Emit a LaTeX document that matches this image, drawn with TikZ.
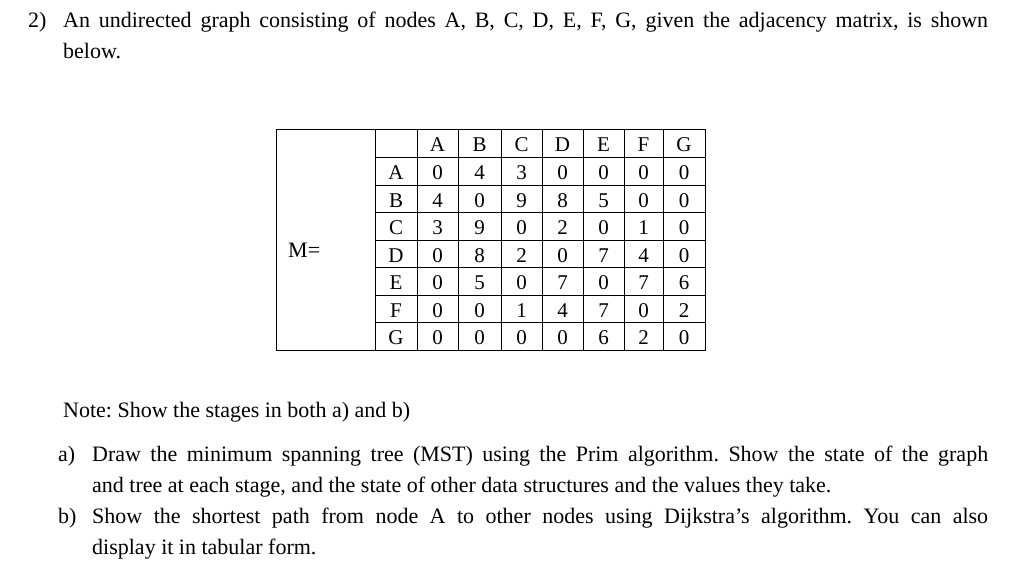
\documentclass[tikz,border=0pt]{standalone}
\usepackage{fontspec}
\setmainfont{Liberation Serif}
\frenchspacing
\begin{document}
\begin{tikzpicture}[x=1pt,y=-1pt,
  txt/.style={anchor=base west,inner sep=0pt,font=\fontsize{22}{26}\selectfont},
  cell/.style={anchor=base,inner sep=0pt,font=\fontsize{21}{24}\selectfont},
  grid/.style={line width=1pt}]
\useasboundingbox[fill=white] (0,0) rectangle (1024,572);
\node[txt] (n2) at (28,28) {2)};
\node[txt] (l1) at (63,28) {\makebox[925pt][s]{An undirected graph consisting of nodes A, B, C, D, E, F, G, given the adjacency matrix, is shown}};
\node[txt] (l2) at (63,59) {below.};
% table
\draw[grid] (276,130) rectangle (705,350);
\draw[grid] (375,130) -- (375,350);
\foreach \x in {417,458,501,542,583,624,663} \draw[grid] (\x,130) -- (\x,350);
\foreach \i in {1,...,7} \draw[grid] (375,{130+27.5*\i}) -- (705,{130+27.5*\i});
\node[txt] (M) at (288,257) {M=};
\def\cx{{396,437.5,479.5,521.5,562.5,603.5,643.5,684}}
\foreach \t [count=\i from 0] in {A,B,C,D,E,F,G}{
  \pgfmathsetmacro\xx{\cx[\i+1]}
  \pgfmathsetmacro\yy{152+27.5*(\i+1)}
  \node[cell] (h\i) at (\xx,152) {\t};
  \node[cell] (r\i) at (396,\yy) {\t};
}
\foreach \row [count=\r] in {{0,4,3,0,0,0,0},{4,0,9,8,5,0,0},{3,9,0,2,0,1,0},{0,8,2,0,7,4,0},{0,5,0,7,0,7,6},{0,0,1,4,7,0,2},{0,0,0,0,6,2,0}}{
  \foreach \v [count=\c] in \row {
    \pgfmathsetmacro\xx{\cx[\c]}
    \pgfmathsetmacro\yy{152+27.5*\r}
    \node[cell] (m\r\c) at (\xx,\yy) {\v};
  }
}
\node[txt] (note) at (63,417) {Note: Show the stages in both a) and b)};
\node[txt] (a) at (58,461) {a)};
\node[txt] (a1) at (92,461) {\makebox[896pt][s]{Draw the minimum spanning tree (MST) using the Prim algorithm. Show the state of the graph}};
\node[txt] (a2) at (92,492) {and tree at each stage, and the state of other data structures and the values they take.};
\node[txt] (b) at (58,523) {b)};
\node[txt] (b1) at (92,523) {\makebox[896pt][s]{Show the shortest path from node A to other nodes using Dijkstra's algorithm. You can also}};
\node[txt] (b2) at (92,554) {display it in tabular form.};
\end{tikzpicture}
\end{document}
